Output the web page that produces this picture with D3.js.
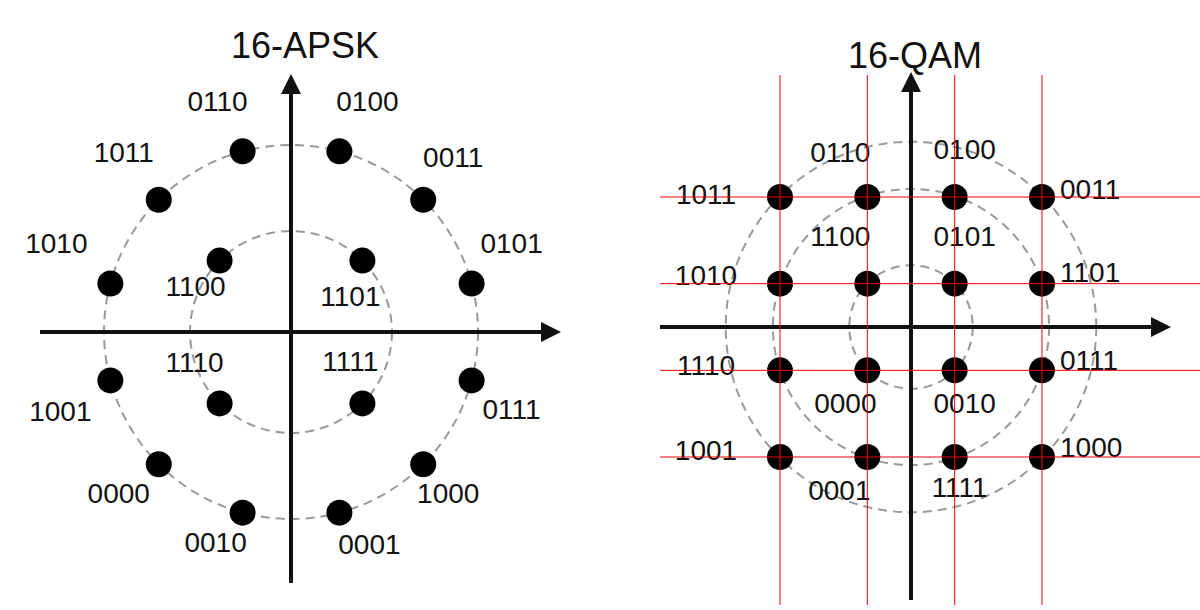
<!DOCTYPE html>
<html><head><meta charset="utf-8">
<script src="https://cdn.jsdelivr.net/npm/d3@7"></script>
<style>body{margin:0;background:#fff}text{font-family:"Liberation Sans","DejaVu Sans",sans-serif}</style>
</head><body>
<svg id="svg" width="1200" height="610"></svg>
<script>
// 16-APSK: ring radius (unit) and angle (deg), label and label offset direction
const apskRings = [0.54, 1.0];
const apskAngles = [105, 75, 135, 45, 165, 15, 195, 345, 225, 315, 255, 285, 135, 45, 225, 315];
const apskRadii = [1, 1, 1, 1, 1, 1, 1, 1, 1, 1, 1, 1, 0.54, 0.54, 0.54, 0.54];
const apskLabels = ["0110", "0100", "1011", "0011", "1010", "0101", "1001", "0111", "0000", "1000", "0010", "0001", "1100", "1101", "1110", "1111"];
const apskLabelPos = [[-25,-48],[28,-48],[-35,-45],[30,-40],[-54,-38],[40,-38],[-50,33],[40,31],[-40,31],[25,31],[-27,32],[30,34],[-24,28],[-12,38],[-25,-39],[-12,-40]];

// 16-QAM grid
const qamLevels = [-3, -1, 1, 3];
const qamLabels = [["1011","0110","0100","0011"],["1010","1100","0101","1101"],["1110","0000","0010","0111"],["1001","0001","1111","1000"]];
const qamLabelPos = [[[-74,0],[-27,-42],[10,-45],[18,-5]],[[-74,-6],[-27,-45],[10,-45],[18,-9]],[[-74,-3],[-22,35],[10,35],[18,-8]],[[-74,-4],[-28,36],[5,33],[18,-7]]];
const qamRings = [Math.SQRT2, Math.sqrt(10), Math.sqrt(18)];

const svg = d3.select("#svg");
svg.append("defs").append("marker").attr("id","arr").attr("viewBox","0 -5 10 10")
  .attr("refX",2).attr("markerWidth",5).attr("markerHeight",5).attr("orient","auto")
  .append("path").attr("d","M0,-5L10,0L0,5Z").attr("fill","#111");

function axes(g, cx, cy, x0, x1, yTop, yBot) {
  g.append("line").attr("x1",x0).attr("x2",x1-10).attr("y1",cy).attr("y2",cy)
    .attr("stroke","#111").attr("stroke-width",4).attr("marker-end","url(#arr)");
  g.append("line").attr("x1",cx).attr("x2",cx).attr("y1",yBot).attr("y2",yTop+10)
    .attr("stroke","#111").attr("stroke-width",4).attr("marker-end","url(#arr)");
}

// ---- APSK
{
  const cx = 291, cy = 332;
  const r = d3.scaleLinear().domain([0,1]).range([0,187]);
  const g = svg.append("g");
  g.selectAll("circle.ring").data(apskRings).join("circle").attr("class","ring")
    .attr("cx",cx).attr("cy",cy).attr("r",d=>r(d)).attr("fill","none")
    .attr("stroke","#999").attr("stroke-width",2).attr("stroke-dasharray","9,6");
  axes(g, cx, cy, 40, 555, 80, 583);
  const pts = apskLabels.map((l,i)=>{
    const a = apskAngles[i]*Math.PI/180;
    return {l, x: cx + r(apskRadii[i])*Math.cos(a), y: cy - r(apskRadii[i])*Math.sin(a), o: apskLabelPos[i]};
  });
  g.selectAll("circle.pt").data(pts).join("circle").attr("class","pt")
    .attr("cx",d=>d.x).attr("cy",d=>d.y).attr("r",13).attr("fill","#000");
  g.selectAll("text.lb").data(pts).join("text").attr("class","lb")
    .attr("x",d=>d.x+d.o[0]).attr("y",d=>d.y+d.o[1]).attr("text-anchor","middle")
    .attr("dominant-baseline","middle").attr("font-size",28).attr("fill","#111").text(d=>d.l);
  g.append("text").attr("x",305).attr("y",58).attr("text-anchor","middle")
    .attr("font-size",36).attr("fill","#111").text("16-APSK");
}

// ---- QAM
{
  const x = d3.scaleLinear().domain([-3,3]).range([780,1042]);
  const y = d3.scaleLinear().domain([-3,3]).range([457,197]);
  const cx = x(0), cy = y(0), u = x(1)-x(0);
  const g = svg.append("g");
  g.selectAll("circle.ring").data(qamRings).join("circle").attr("class","ring")
    .attr("cx",cx).attr("cy",cy).attr("r",d=>d*u).attr("fill","none")
    .attr("stroke","#999").attr("stroke-width",2).attr("stroke-dasharray","9,6");
  axes(g, cx, cy, 660, 1165, 78, 600);
  const pts = [];
  qamLevels.slice().reverse().forEach((yv,ri)=>qamLevels.forEach((xv,ci)=>
    pts.push({x:x(xv), y:y(yv), l:qamLabels[ri][ci], o:qamLabelPos[ri][ci]})));
  g.selectAll("circle.pt").data(pts).join("circle").attr("class","pt")
    .attr("cx",d=>d.x).attr("cy",d=>d.y).attr("r",13).attr("fill","#000");
  g.selectAll("text.lb").data(pts).join("text").attr("class","lb")
    .attr("x",d=>d.x+d.o[0]).attr("y",d=>d.y+d.o[1]).attr("text-anchor",d=>d.o[0]>15?"start":"middle")
    .attr("dominant-baseline","middle").attr("font-size",28).attr("fill","#111").text(d=>d.l);
  // red guide lines
  g.selectAll("line.vx").data(qamLevels).join("line").attr("class","vx")
    .attr("x1",d=>x(d)).attr("x2",d=>x(d)).attr("y1",75).attr("y2",605)
    .attr("stroke","#e00").attr("stroke-width",1);
  g.selectAll("line.hy").data(qamLevels).join("line").attr("class","hy")
    .attr("y1",d=>y(d)).attr("y2",d=>y(d)).attr("x1",660).attr("x2",1200)
    .attr("stroke","#e00").attr("stroke-width",1);
  g.append("text").attr("x",915).attr("y",68).attr("text-anchor","middle")
    .attr("font-size",36).attr("fill","#111").text("16-QAM");
}
</script>
</body></html>
